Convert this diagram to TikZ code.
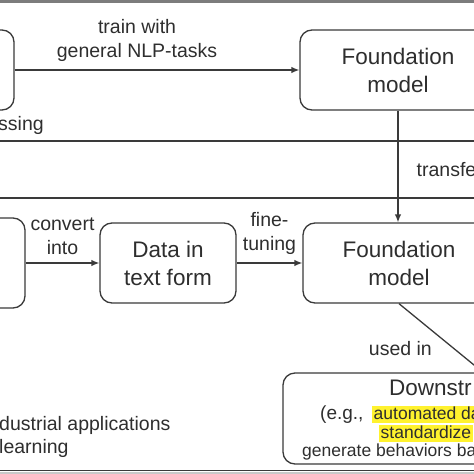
\documentclass[tikz,border=0pt]{standalone}
\usepackage{fontspec}
\setmainfont{Liberation Sans}
\usetikzlibrary{arrows.meta,positioning}
\definecolor{linedark}{HTML}{3A3A3A}
\definecolor{textdark}{HTML}{2E2E2E}
\definecolor{framegray}{HTML}{7C7C7C}
\definecolor{framelight}{HTML}{C9C9C9}
\definecolor{marker}{HTML}{FFF22E}
\tikzset{
  blk/.style={draw=linedark, rounded corners=12pt, line width=1.3pt, fill=white, align=center, inner sep=0pt, text=textdark, font=\fontsize{22.5}{28}\selectfont},
  ar/.style={-{Latex[length=8pt,width=6.5pt]}, line width=1.3pt, draw=linedark},
  lbl/.style={font=\fontsize{19.5}{23.5}\selectfont, align=center, inner sep=0pt, text=textdark},
  sub/.style={font=\fontsize{17.5}{20}\selectfont, inner sep=0pt, text=textdark},
  hl/.style={sub, fill=marker, inner xsep=1.5pt, inner ysep=0.5pt, text height=13pt, text depth=3.5pt},
  sep/.style={line width=1.3pt, draw=linedark},
}
\begin{document}
\begin{tikzpicture}[x=1pt, y=-1pt]
  \useasboundingbox (0,0) rectangle (474,474);
  \clip (0,0) rectangle (474,474);
  % frame
  \fill[framegray] (0,0) rectangle (474,2.5);
  \fill[framelight] (0,472) rectangle (474,474);
  \draw[line width=1.5pt, linedark] (0,470.7) -- (474,470.7);
  % region borders
  \draw[sep] (0,141) -- (474,141);
  \draw[sep] (0,198) -- (474,198);
  \node[lbl, anchor=base west] (nlpTag) at (-2,130) {ssing};
  \node[lbl, anchor=base west] (indTag) at (-1,430) {dustrial applications};
  \node[lbl, anchor=base west] (indTag2) at (-1,453) {learning};

  % boxes
  \node[blk, minimum width=110pt, minimum height=80pt] (nlpSrc) at (-41,70) {};
  \node[blk, minimum width=196pt, minimum height=80pt] (fmTop) at (398,70) {Foundation\\model};
  \node[blk, minimum width=110pt, minimum height=90pt] (indSrc) at (-30,263) {};
  \node[blk, minimum width=136pt, minimum height=80pt] (txtData) at (168,263) {Data in\\text form};
  \node[blk, minimum width=192pt, minimum height=80pt] (fmLow) at (399,263) {Foundation\\model};
  \node[blk, minimum width=400pt, minimum height=91pt] (downTask) at (483,418.5) {};

  % connectors
  \draw[ar] (nlpSrc.east) -- node[lbl, above=8pt, pos=0.43] {train with\\general NLP-tasks} (fmTop.west);
  \draw[ar] (fmTop.south) -- node[lbl, right=18pt, pos=0.53] {transfe} (fmTop.south |- fmLow.north);
  \draw[ar] (indSrc.east) -- node[lbl, above=8pt] {convert\\into} (txtData.west);
  \draw[ar] (txtData.east) -- node[lbl, above=8pt] {fine-\\tuning} (fmLow.west);
  \draw[ar] (fmLow.south) -- node[lbl, left=22pt, pos=0.66] {used in} (downTask.north);

  % downstream text
  \node[anchor=base west, inner sep=0pt, text=textdark, font=\fontsize{22.5}{28}\selectfont] (downTitle) at (389,395) {Downstr};
  \node[sub, anchor=base west, font=\fontsize{19}{20}\selectfont] (egTag) at (320,419) {(e.g.,};
  \node[hl, anchor=base west] (autoTag) at (372,419) {automated da};
  \node[hl, anchor=base west] (stdTag) at (379,438) {standardize};
  \node[sub, anchor=base west] (genTag) at (302,456) {generate behaviors ba};
\end{tikzpicture}
\end{document}
